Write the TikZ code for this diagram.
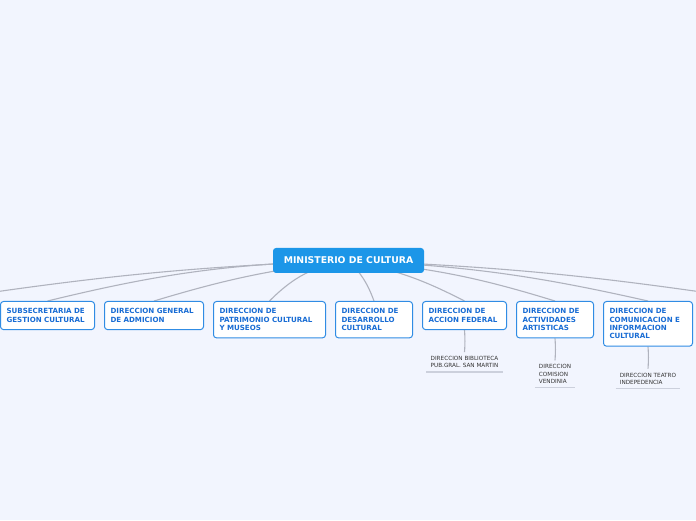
\documentclass[tikz,border=0pt]{standalone}
\usepackage{fontspec}
\newfontfamily\mapfont{DejaVu Sans}
\usetikzlibrary{positioning,backgrounds}
\definecolor{paper}{RGB}{242,245,254}
\definecolor{rootblue}{RGB}{28,150,232}
\definecolor{deptblue}{RGB}{48,140,228}
\definecolor{depttext}{RGB}{24,108,212}
\definecolor{linkgray}{RGB}{176,179,190}
\definecolor{rulegray}{RGB}{204,208,220}
\definecolor{leaftext}{RGB}{51,51,51}

\begin{document}
\begin{tikzpicture}[
  x=1pt, y=1pt,
  root/.style={
    rectangle,
    rounded corners=3pt,
    fill=rootblue,
    text=white,
    minimum width=151pt,
    minimum height=25pt,
    inner sep=0pt,
    font=\mapfont\bfseries\fontsize{9.3}{11}\selectfont
  },
  dept/.style={
    rectangle,
    rounded corners=3pt,
    draw=deptblue,
    line width=1pt,
    fill=white,
    text=depttext,
    text width=#1,
    align=left,
    inner xsep=6pt,
    inner ysep=7.2pt,
    font=\mapfont\bfseries\fontsize{7.1}{8.3}\selectfont
  },
  leaf/.style={
    text=leaftext,
    align=left,
    inner sep=4pt,
    font=\mapfont\fontsize{5.7}{7.3}\selectfont
  },
  link/.style={draw=linkgray, line width=1.1pt},
  underline/.style={draw=rulegray, line width=1.6pt}
]
\useasboundingbox (0,0) rectangle (696,520);

\node[root] (ministry) at (348.5,259.5) {MINISTERIO DE CULTURA};

% first row under the root
\node[dept=82pt, anchor=north west] (subsec) at (0,219) {
  SUBSECRETARIA DE\\GESTION CULTURAL};
\node[dept=87pt, right=9pt of subsec.north east, anchor=north west] (admin) {
  DIRECCION GENERAL\\DE ADMICION};
\node[dept=100pt, right=9pt of admin.north east, anchor=north west] (museums) {
  DIRECCION DE\\PATRIMONIO CULTURAL\\Y MUSEOS};
\node[dept=65pt, right=9pt of museums.north east, anchor=north west] (develop) {
  DIRECCION DE\\DESARROLLO\\CULTURAL};
\node[dept=72pt, right=9pt of develop.north east, anchor=north west] (federal) {
  DIRECCION DE\\ACCION FEDERAL};
\node[dept=65pt, right=9pt of federal.north east, anchor=north west] (arts) {
  DIRECCION DE\\ACTIVIDADES\\ARTISTICAS};
\node[dept=77pt, right=9pt of arts.north east, anchor=north west] (media) {
  DIRECCION DE\\COMUNICACION E\\INFORMACION\\CULTURAL};

% second row
\node[leaf, below=22pt of federal] (library) {
  DIRECCION BIBLIOTECA\\PUB.GRAL. SAN MARTIN};
\node[leaf, below=22pt of arts] (commission) {
  DIRECCION\\COMISION\\VENDINIA};
\node[leaf, below=22pt of media] (theatre) {
  DIRECCION TEATRO\\INDEPEDENCIA};

% branches running off the page
\coordinate (offwest) at (-40,223);
\coordinate (offeast) at (736,223);

\begin{scope}[on background layer]
  \fill[paper] (0,0) rectangle (696,520);
  \draw[link] (ministry.center) to[bend right=3] (offwest);
  \draw[link] (ministry.center) to[bend right=6] (subsec.north);
  \draw[link] (ministry.center) to[bend right=5] (admin.north);
  \draw[link] (ministry.center) to[bend right=18] (museums.north);
  \draw[link] (ministry.center) to[bend left=12] (develop.north);
  \draw[link] (ministry.center) to[bend left=8] (federal.north);
  \draw[link] (ministry.center) to[bend left=6] (arts.north);
  \draw[link] (ministry.center) to[bend left=5] (media.north);
  \draw[link] (ministry.center) to[bend left=3] (offeast);
  \draw[link] (federal.south) to[bend left=4] (library.north);
  \draw[link] (arts.south) to[bend left=4] (commission.north);
  \draw[link] (media.south) to[bend left=4] (theatre.north);
\end{scope}

\draw[underline] (library.south west) -- (library.south east);
\draw[underline] (commission.south west) -- (commission.south east);
\draw[underline] (theatre.south west) -- (theatre.south east);

\end{tikzpicture}
\end{document}
